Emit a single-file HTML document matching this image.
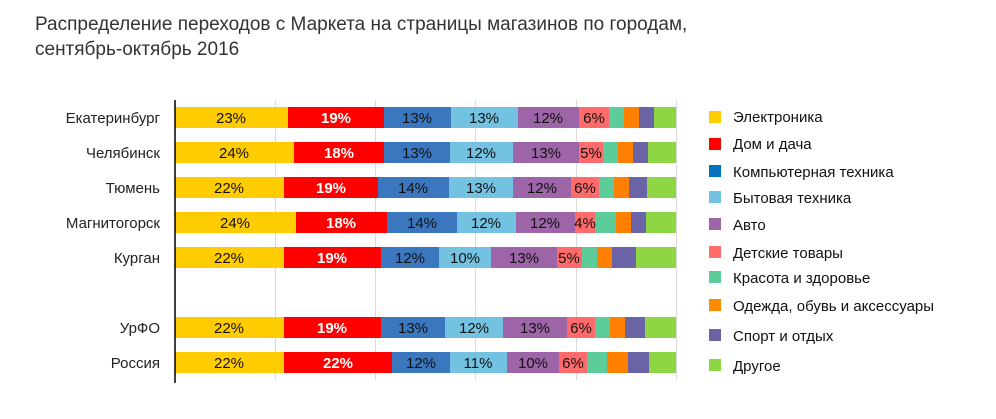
<!DOCTYPE html>
<html><head><meta charset="utf-8"><style>
body{margin:0;background:#fff;}
svg text{font-family:"Liberation Sans",sans-serif;}
</style></head><body>
<svg width="996" height="414" viewBox="0 0 996 414" xmlns="http://www.w3.org/2000/svg">
<text x="35" y="30" font-size="19" fill="#333">Распределение переходов с Маркета на страницы магазинов по городам,</text>
<text x="35" y="55" font-size="19" fill="#333">сентябрь-октябрь 2016</text>
<g stroke="#d9d9d9" stroke-width="1">
<line x1="275.5" y1="100" x2="275.5" y2="380"/><line x1="375.5" y1="100" x2="375.5" y2="380"/>
<line x1="475.5" y1="100" x2="475.5" y2="380"/><line x1="576.5" y1="100" x2="576.5" y2="380"/>
<line x1="676.5" y1="100" x2="676.5" y2="380"/>
</g>
<g font-size="15" fill="#222" text-anchor="end">
<text x="160" y="123">Екатеринбург</text><text x="160" y="158">Челябинск</text><text x="160" y="193">Тюмень</text>
<text x="160" y="228">Магнитогорск</text><text x="160" y="263">Курган</text><text x="160" y="333">УрФО</text><text x="160" y="368">Россия</text>
</g>
<!-- Row 1 -->
<g>
<rect x="175" y="107" width="113" height="21" fill="#FFCC00"/><rect x="288" y="107" width="96" height="21" fill="#FF0000"/>
<rect x="384" y="107" width="67" height="21" fill="#3B77BE"/><rect x="451" y="107" width="67" height="21" fill="#73C2E1"/>
<rect x="518" y="107" width="61" height="21" fill="#9D65A8"/><rect x="579" y="107" width="30" height="21" fill="#FF6B6B"/>
<rect x="609" y="107" width="15" height="21" fill="#5BCC9A"/><rect x="624" y="107" width="15" height="21" fill="#FF7F00"/>
<rect x="639" y="107" width="15" height="21" fill="#6A64A6"/><rect x="654" y="107" width="22" height="21" fill="#8FD644"/>
</g>
<g>
<rect x="175" y="142" width="119" height="21" fill="#FFCC00"/><rect x="294" y="142" width="90" height="21" fill="#FF0000"/>
<rect x="384" y="142" width="66" height="21" fill="#3B77BE"/><rect x="450" y="142" width="63" height="21" fill="#73C2E1"/>
<rect x="513" y="142" width="66" height="21" fill="#9D65A8"/><rect x="579" y="142" width="24" height="21" fill="#FF6B6B"/>
<rect x="603" y="142" width="15" height="21" fill="#5BCC9A"/><rect x="618" y="142" width="15" height="21" fill="#FF7F00"/>
<rect x="633" y="142" width="15" height="21" fill="#6A64A6"/><rect x="648" y="142" width="28" height="21" fill="#8FD644"/>
</g>
<g>
<rect x="175" y="177" width="109" height="21" fill="#FFCC00"/><rect x="284" y="177" width="94" height="21" fill="#FF0000"/>
<rect x="378" y="177" width="71" height="21" fill="#3B77BE"/><rect x="449" y="177" width="64" height="21" fill="#73C2E1"/>
<rect x="513" y="177" width="58" height="21" fill="#9D65A8"/><rect x="571" y="177" width="28" height="21" fill="#FF6B6B"/>
<rect x="599" y="177" width="15" height="21" fill="#5BCC9A"/><rect x="614" y="177" width="15" height="21" fill="#FF7F00"/>
<rect x="629" y="177" width="18" height="21" fill="#6A64A6"/><rect x="647" y="177" width="29" height="21" fill="#8FD644"/>
</g>
<g>
<rect x="175" y="212" width="121" height="21" fill="#FFCC00"/><rect x="296" y="212" width="91" height="21" fill="#FF0000"/>
<rect x="387" y="212" width="70" height="21" fill="#3B77BE"/><rect x="457" y="212" width="59" height="21" fill="#73C2E1"/>
<rect x="516" y="212" width="59" height="21" fill="#9D65A8"/><rect x="575" y="212" width="20" height="21" fill="#FF6B6B"/>
<rect x="595" y="212" width="21" height="21" fill="#5BCC9A"/><rect x="616" y="212" width="15" height="21" fill="#FF7F00"/>
<rect x="631" y="212" width="15" height="21" fill="#6A64A6"/><rect x="646" y="212" width="30" height="21" fill="#8FD644"/>
</g>
<g>
<rect x="175" y="247" width="109" height="21" fill="#FFCC00"/><rect x="284" y="247" width="97" height="21" fill="#FF0000"/>
<rect x="381" y="247" width="58" height="21" fill="#3B77BE"/><rect x="439" y="247" width="52" height="21" fill="#73C2E1"/>
<rect x="491" y="247" width="66" height="21" fill="#9D65A8"/><rect x="557" y="247" width="25" height="21" fill="#FF6B6B"/>
<rect x="582" y="247" width="15" height="21" fill="#5BCC9A"/><rect x="597" y="247" width="15" height="21" fill="#FF7F00"/>
<rect x="612" y="247" width="24" height="21" fill="#6A64A6"/><rect x="636" y="247" width="40" height="21" fill="#8FD644"/>
</g>
<g>
<rect x="175" y="317" width="109" height="21" fill="#FFCC00"/><rect x="284" y="317" width="97" height="21" fill="#FF0000"/>
<rect x="381" y="317" width="64" height="21" fill="#3B77BE"/><rect x="445" y="317" width="58" height="21" fill="#73C2E1"/>
<rect x="503" y="317" width="64" height="21" fill="#9D65A8"/><rect x="567" y="317" width="28" height="21" fill="#FF6B6B"/>
<rect x="595" y="317" width="15" height="21" fill="#5BCC9A"/><rect x="610" y="317" width="15" height="21" fill="#FF7F00"/>
<rect x="625" y="317" width="20" height="21" fill="#6A64A6"/><rect x="645" y="317" width="31" height="21" fill="#8FD644"/>
</g>
<g>
<rect x="175" y="352" width="109" height="21" fill="#FFCC00"/><rect x="284" y="352" width="108" height="21" fill="#FF0000"/>
<rect x="392" y="352" width="58" height="21" fill="#3B77BE"/><rect x="450" y="352" width="57" height="21" fill="#73C2E1"/>
<rect x="507" y="352" width="52" height="21" fill="#9D65A8"/><rect x="559" y="352" width="28" height="21" fill="#FF6B6B"/>
<rect x="587" y="352" width="20" height="21" fill="#5BCC9A"/><rect x="607" y="352" width="21" height="21" fill="#FF7F00"/>
<rect x="628" y="352" width="21" height="21" fill="#6A64A6"/><rect x="649" y="352" width="27" height="21" fill="#8FD644"/>
</g>
<line x1="175" y1="100" x2="175" y2="383" stroke="#000" stroke-width="1.5"/>
<g font-size="15" fill="#111" text-anchor="middle">
<text x="231" y="123">23%</text><text x="417" y="123">13%</text><text x="484" y="123">13%</text><text x="548" y="123">12%</text><text x="594" y="123">6%</text>
<text x="234" y="158">24%</text><text x="417" y="158">13%</text><text x="481" y="158">12%</text><text x="546" y="158">13%</text><text x="591" y="158">5%</text>
<text x="229" y="193">22%</text><text x="413" y="193">14%</text><text x="481" y="193">13%</text><text x="542" y="193">12%</text><text x="585" y="193">6%</text>
<text x="235" y="228">24%</text><text x="422" y="228">14%</text><text x="486" y="228">12%</text><text x="545" y="228">12%</text><text x="585" y="228">4%</text>
<text x="229" y="263">22%</text><text x="410" y="263">12%</text><text x="465" y="263">10%</text><text x="524" y="263">13%</text><text x="569" y="263">5%</text>
<text x="229" y="333">22%</text><text x="413" y="333">13%</text><text x="474" y="333">12%</text><text x="535" y="333">13%</text><text x="581" y="333">6%</text>
<text x="229" y="368">22%</text><text x="421" y="368">12%</text><text x="478" y="368">11%</text><text x="533" y="368">10%</text><text x="573" y="368">6%</text>
</g>
<g font-size="15" fill="#fff" font-weight="bold" text-anchor="middle">
<text x="336" y="123">19%</text><text x="339" y="158">18%</text><text x="331" y="193">19%</text><text x="341" y="228">18%</text>
<text x="332" y="263">19%</text><text x="332" y="333">19%</text><text x="338" y="368">22%</text>
</g>
<g>
<rect x="709" y="111" width="12" height="12" fill="#FFCC00"/><rect x="709" y="138" width="12" height="12" fill="#FF0000"/>
<rect x="709" y="165" width="12" height="12" fill="#0070C0"/><rect x="709" y="191" width="12" height="12" fill="#73C2E1"/>
<rect x="709" y="218" width="12" height="12" fill="#9D65A8"/><rect x="709" y="246" width="12" height="12" fill="#FF6B6B"/>
<rect x="709" y="271" width="12" height="12" fill="#5BCC9A"/><rect x="709" y="299" width="12" height="12" fill="#FF8C00"/>
<rect x="709" y="329" width="12" height="12" fill="#6A64A6"/><rect x="709" y="359" width="12" height="12" fill="#8FD644"/>
</g>
<g font-size="15" fill="#111">
<text x="733" y="122">Электроника</text><text x="733" y="149">Дом и дача</text><text x="733" y="177">Компьютерная техника</text>
<text x="733" y="203">Бытовая техника</text><text x="733" y="230">Авто</text><text x="733" y="258">Детские товары</text>
<text x="733" y="283">Красота и здоровье</text><text x="733" y="311">Одежда, обувь и аксессуары</text>
<text x="733" y="341">Спорт и отдых</text><text x="733" y="371">Другое</text>
</g>
</svg>
</body></html>
